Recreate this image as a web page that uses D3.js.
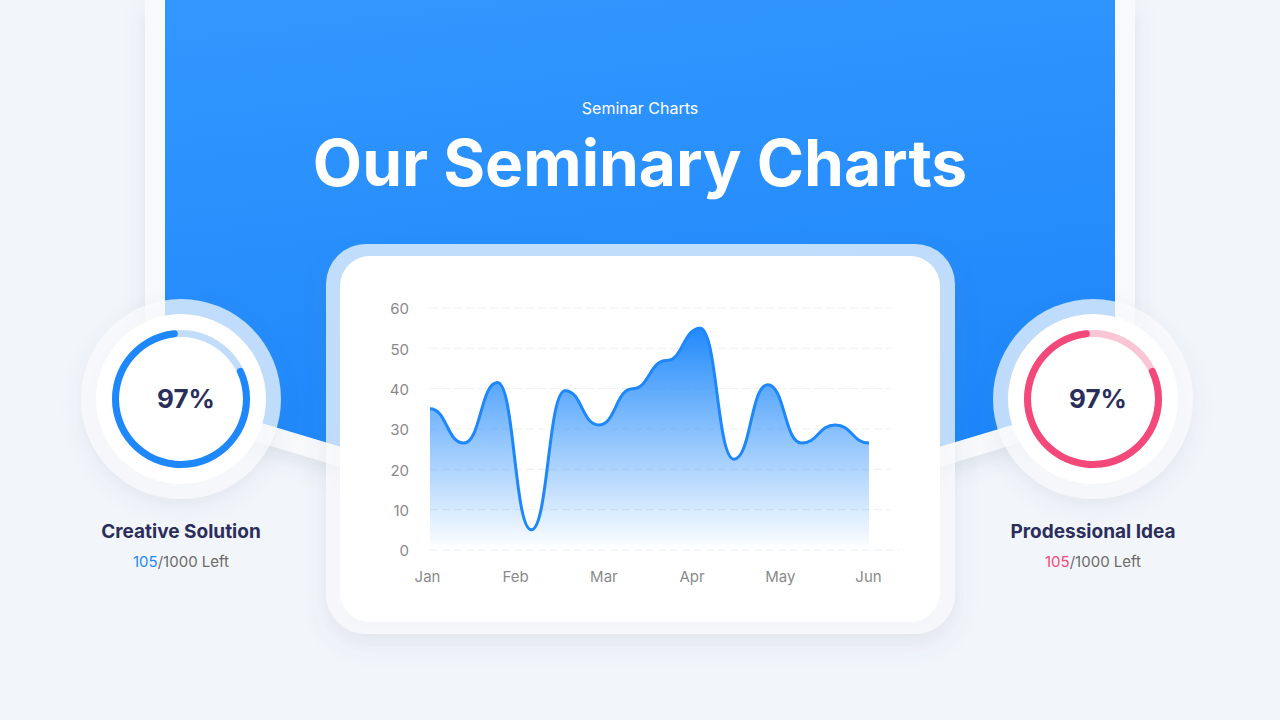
<!DOCTYPE html>
<html>
<head>
<meta charset="utf-8">
<script src="https://cdn.jsdelivr.net/npm/d3@7"></script>
<style>
  html, body { margin: 0; padding: 0; background: #f2f5fa; }
  svg { display: block; font-family: Inter, "Noto Sans", sans-serif; }
</style>
</head>
<body>
<div id="plot"></div>
<script>
// chart data
var months = ["Jan", "Feb", "Mar", "Apr", "May", "Jun"];
var values = [35, 26.5, 41.5, 5, 39.5, 31, 40, 47, 55, 22.5, 41, 26.5, 31, 26.5];
var yTicks = [0, 10, 20, 30, 40, 50, 60];

// gauges
var gaugeTitles = ["Creative Solution", "Prodessional Idea"];
var gaugeLabels = ["97%", "97%"];
var gaugeShare = [0.82, 0.82];   // share of ring that is filled, as drawn
var gaugeLeft = [105, 105];
var gaugeTotal = [1000, 1000];
var gaugeColors = ["#1e88fb", "#f2497a"];
var gaugeTracks = ["#c2ddf9", "#fac6d6"];

var W = 1280, H = 720;

var svg = d3.select("div#plot").append("svg")
    .attr("width", W)
    .attr("height", H);

var defs = svg.append("defs");

var blueGrad = defs.append("linearGradient")
    .attr("id", "blueBg")
    .attr("x1", 0).attr("y1", 0).attr("x2", 0.2).attr("y2", 1);
blueGrad.append("stop").attr("offset", "0%").attr("stop-color", "#3297fe");
blueGrad.append("stop").attr("offset", "100%").attr("stop-color", "#1c85fa");

var shadow = defs.append("filter").attr("id", "soft")
    .attr("x", "-30%").attr("y", "-30%").attr("width", "160%").attr("height", "160%");
shadow.append("feDropShadow")
    .attr("dx", 0).attr("dy", 8).attr("stdDeviation", 10)
    .attr("flood-color", "#5a6a85").attr("flood-opacity", 0.13);

var shadow2 = defs.append("filter").attr("id", "soft2")
    .attr("x", "-30%").attr("y", "-30%").attr("width", "160%").attr("height", "160%");
shadow2.append("feDropShadow")
    .attr("dx", 0).attr("dy", 10).attr("stdDeviation", 12)
    .attr("flood-color", "#5a6a85").attr("flood-opacity", 0.16);

// background frame and blue banner
svg.append("path")
    .attr("d", "M145,0 L1135,0 L1135,408 L640,557 L145,408 Z")
    .attr("fill", "#f8f9fb")
    .attr("filter", "url(#soft)");

svg.append("path")
    .attr("d", "M165,0 L1115,0 L1115,394 L640,537 L165,394 Z")
    .attr("fill", "url(#blueBg)");

svg.append("text")
    .attr("x", 640).attr("y", 114)
    .attr("text-anchor", "middle")
    .attr("fill", "#ffffff")
    .style("font-size", "16px")
    .text("Seminar Charts");

svg.append("text")
    .attr("x", 640).attr("y", 186)
    .attr("text-anchor", "middle")
    .attr("fill", "#ffffff")
    .style("font-size", "64px")
    .style("font-weight", 700)
    .text("Our Seminary Charts");

// chart card
svg.append("rect")
    .attr("x", 326).attr("y", 244)
    .attr("width", 629).attr("height", 390)
    .attr("rx", 40)
    .attr("fill", "rgba(250,251,253,0.72)")
    .attr("filter", "url(#soft2)");

svg.append("rect")
    .attr("x", 340).attr("y", 256)
    .attr("width", 600).attr("height", 366)
    .attr("rx", 30)
    .attr("fill", "#ffffff");

// scales
var x = d3.scaleLinear()
    .domain([0, values.length - 1])
    .range([430, 869]);

var xMonth = d3.scalePoint()
    .domain(months)
    .range([427, 868]);

var y = d3.scaleLinear()
    .domain([0, 60])
    .range([550, 308]);

// grid lines
svg.append("g")
  .selectAll("line")
    .data(yTicks)
    .enter().append("line")
    .attr("x1", 430)
    .attr("x2", d => d === 0 ? 900 : 890)
    .attr("y1", d => y(d))
    .attr("y2", d => y(d))
    .attr("stroke", "#eceef2")
    .attr("stroke-width", 1)
    .attr("stroke-dasharray", "8,4");

// y axis
var yAxis = svg.append("g")
    .attr("transform", "translate(409,1)")
    .call(d3.axisLeft(y).tickValues(yTicks).tickSize(0).tickPadding(0));
yAxis.select(".domain").remove();
yAxis.selectAll("text")
    .attr("fill", "#8a8a8a")
    .style("font-size", "15px")
    .style("font-family", "Inter, sans-serif");

// x axis
var xAxis = svg.append("g")
    .attr("transform", "translate(0,571)")
    .call(d3.axisBottom(xMonth).tickSize(0).tickPadding(0));
xAxis.select(".domain").remove();
xAxis.selectAll("text")
    .attr("fill", "#8a8a8a")
    .style("font-size", "15px")
    .style("font-family", "Inter, sans-serif");

// area + line
var areaGrad = defs.append("linearGradient")
    .attr("id", "areaFill")
    .attr("gradientUnits", "userSpaceOnUse")
    .attr("x1", 0).attr("x2", 0)
    .attr("y1", y(56)).attr("y2", y(0));
areaGrad.append("stop").attr("offset", "0%").attr("stop-color", "#1e88fb").attr("stop-opacity", 1);
areaGrad.append("stop").attr("offset", "55%").attr("stop-color", "#1e88fb").attr("stop-opacity", 0.45);
areaGrad.append("stop").attr("offset", "100%").attr("stop-color", "#1e88fb").attr("stop-opacity", 0);

var area = d3.area()
    .x((d, i) => x(i))
    .y0(y(0))
    .y1(d => y(d))
    .curve(d3.curveBumpX);

var line = d3.line()
    .x((d, i) => x(i))
    .y(d => y(d))
    .curve(d3.curveBumpX);

svg.append("path")
    .datum(values)
    .attr("d", area)
    .attr("fill", "url(#areaFill)");

svg.append("path")
    .datum(values)
    .attr("d", line)
    .attr("fill", "none")
    .attr("stroke", "#1e88fb")
    .attr("stroke-width", 3);

// gauges
var gaugeX = [181, 1093];
var gaugeY = 399;

var ring = d3.arc().innerRadius(62).outerRadius(69);
var startAng = 62 * Math.PI / 180;

gaugeTitles.forEach(function(t, i) {
  var g = svg.append("g").attr("transform", "translate(" + gaugeX[i] + "," + gaugeY + ")");

  g.append("circle").attr("r", 100)
      .attr("fill", "rgba(250,251,253,0.72)")
      .attr("filter", "url(#soft)");
  g.append("circle").attr("r", 85).attr("fill", "#ffffff");

  g.append("path")
      .attr("d", ring({startAngle: 0, endAngle: 2 * Math.PI}))
      .attr("fill", gaugeTracks[i]);

  g.append("path")
      .attr("d", ring.cornerRadius(3.5)({startAngle: startAng, endAngle: startAng + gaugeShare[i] * 2 * Math.PI}))
      .attr("fill", gaugeColors[i]);

  g.append("text")
      .attr("x", 5)
      .attr("y", 9)
      .attr("text-anchor", "middle")
      .attr("fill", "#2b2d5a")
      .style("font-size", "26px")
      .style("font-weight", 700)
      .text(gaugeLabels[i]);

  g.append("text")
      .attr("y", 139)
      .attr("text-anchor", "middle")
      .attr("fill", "#2b2d5a")
      .style("font-size", "19px")
      .style("font-weight", 700)
      .text(t);

  var sub = g.append("text")
      .attr("y", 168)
      .attr("text-anchor", "middle")
      .attr("fill", "#6b6b6b")
      .style("font-size", "15px");
  sub.append("tspan").attr("fill", gaugeColors[i]).text(gaugeLeft[i]);
  sub.append("tspan").text("/" + gaugeTotal[i] + " Left");
});
</script>
</body>
</html>
